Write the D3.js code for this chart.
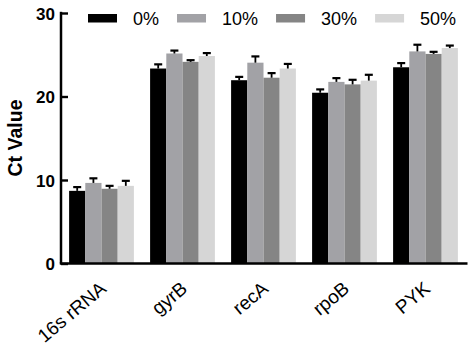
<!DOCTYPE html>
<html>
<head>
<meta charset="utf-8">
<script src="https://cdn.jsdelivr.net/npm/d3@7"></script>
<style>
  html, body { margin: 0; padding: 0; background: #fff; }
  svg { display: block; font-family: "Liberation Sans", Arial, sans-serif; }
</style>
</head>
<body>
<svg id="chart" width="474" height="347"></svg>
<script>
// Reference genes and treatment levels
const genes = ["16s rRNA", "gyrB", "recA", "rpoB", "PYK"];
const seriesNames = ["0%", "10%", "30%", "50%"];
const seriesColors = ["#000000", "#a2a2a6", "#858585", "#d6d6d6"];

// Mean Ct values per treatment, in gene order
const ct0  = [8.7, 23.35, 21.95, 20.45, 23.5];
const ct10 = [9.65, 25.15, 24.05, 21.75, 25.4];
const ct30 = [8.95, 24.15, 22.25, 21.45, 25.1];
const ct50 = [9.3, 24.85, 23.35, 21.9, 25.8];

// Standard deviations (upper error bars)
const sd0  = [0.45, 0.5, 0.4, 0.4, 0.5];
const sd10 = [0.55, 0.35, 0.75, 0.45, 0.8];
const sd30 = [0.35, 0.2, 0.55, 0.55, 0.25];
const sd50 = [0.6, 0.35, 0.55, 0.7, 0.3];

const yTicks = [0, 10, 20, 30];

const means = [ct0, ct10, ct30, ct50];
const sds = [sd0, sd10, sd30, sd50];

const svg = d3.select("#chart");
const plot = { left: 61, right: 466, top: 13, bottom: 263.5 };

const x0 = d3.scaleBand().domain(genes).range([plot.left, plot.right])
  .paddingInner(0.2).paddingOuter(0.1);
const x1 = d3.scaleBand().domain(seriesNames).range([0, x0.bandwidth()]);
const y = d3.scaleLinear().domain([0, 30]).range([plot.bottom, plot.top]);
const color = d3.scaleOrdinal().domain(seriesNames).range(seriesColors);

const rows = [];
genes.forEach((g, gi) => {
  seriesNames.forEach((s, si) => {
    rows.push({ gene: g, series: s, value: means[si][gi], sd: sds[si][gi] });
  });
});

// Bars
const groups = svg.append("g").selectAll("g")
  .data(genes).join("g")
  .attr("transform", g => `translate(${x0(g)},0)`);

groups.selectAll("rect")
  .data(g => rows.filter(r => r.gene === g))
  .join("rect")
  .attr("x", d => x1(d.series))
  .attr("y", d => y(d.value))
  .attr("width", x1.bandwidth())
  .attr("height", d => y(0) - y(d.value))
  .attr("fill", d => color(d.series));

// Upper error bars
const err = groups.selectAll("g.err")
  .data(g => rows.filter(r => r.gene === g))
  .join("g").attr("class", "err")
  .attr("stroke", "#000");
err.append("line")
  .attr("x1", d => x1(d.series) + x1.bandwidth() / 2)
  .attr("x2", d => x1(d.series) + x1.bandwidth() / 2)
  .attr("y1", d => y(d.value))
  .attr("y2", d => y(d.value + d.sd))
  .attr("stroke-width", 1.8);
err.append("line")
  .attr("x1", d => x1(d.series) + x1.bandwidth() / 2 - 4)
  .attr("x2", d => x1(d.series) + x1.bandwidth() / 2 + 4)
  .attr("y1", d => y(d.value + d.sd))
  .attr("y2", d => y(d.value + d.sd))
  .attr("stroke-width", 2.2);

// Y axis (ticks pointing inward)
const yAxis = svg.append("g")
  .attr("transform", `translate(${plot.left},0)`)
  .call(d3.axisRight(y).tickValues(yTicks).tickSize(7).tickFormat(d3.format("d")));
yAxis.select(".domain").remove();
yAxis.selectAll(".tick line").attr("stroke", "#000").attr("stroke-width", 2.4);
yAxis.selectAll(".tick text")
  .attr("x", -6).attr("dy", "0.36em")
  .attr("text-anchor", "end")
  .attr("font-size", 17).attr("font-weight", "bold").attr("fill", "#000");
svg.append("line")
  .attr("x1", plot.left).attr("x2", plot.left)
  .attr("y1", y(30) - 1.2).attr("y2", plot.bottom)
  .attr("stroke", "#000").attr("stroke-width", 2.5);

// X axis line
const xAxis = svg.append("g")
  .attr("transform", `translate(0,${plot.bottom})`)
  .call(d3.axisBottom(x0).tickSize(0).tickSizeOuter(0).tickFormat(""));
xAxis.select(".domain").attr("stroke", "#000").attr("stroke-width", 2.5)
  .attr("d", `M${plot.left - 1.2},0H${plot.right + 1.5}`);

// Slanted gene labels, anchored at their right end below each group
svg.append("g").selectAll("text")
  .data(genes).join("text")
  .attr("font-size", 19).attr("fill", "#000")
  .attr("text-anchor", "end")
  .attr("transform", g =>
    `translate(${x0(g) + x0.bandwidth() / 2 + 6},${plot.bottom + 27}) rotate(-40)`)
  .text(g => g);

// Y axis title
svg.append("text")
  .attr("transform", `translate(22,138) rotate(-90)`)
  .attr("text-anchor", "middle")
  .attr("font-size", 19.5).attr("font-weight", "bold").attr("fill", "#000")
  .text("Ct Value");

// Legend
const legend = svg.append("g");
let lx = 88;
seriesNames.forEach(s => {
  legend.append("rect")
    .attr("x", lx).attr("y", 14).attr("width", 29).attr("height", 8.5)
    .attr("fill", color(s));
  const t = legend.append("text")
    .attr("x", lx + 45).attr("y", 24.5)
    .attr("font-size", 18).attr("fill", "#000")
    .text(s);
  lx += 45 + t.node().getComputedTextLength() + 18;
});
</script>
</body>
</html>
